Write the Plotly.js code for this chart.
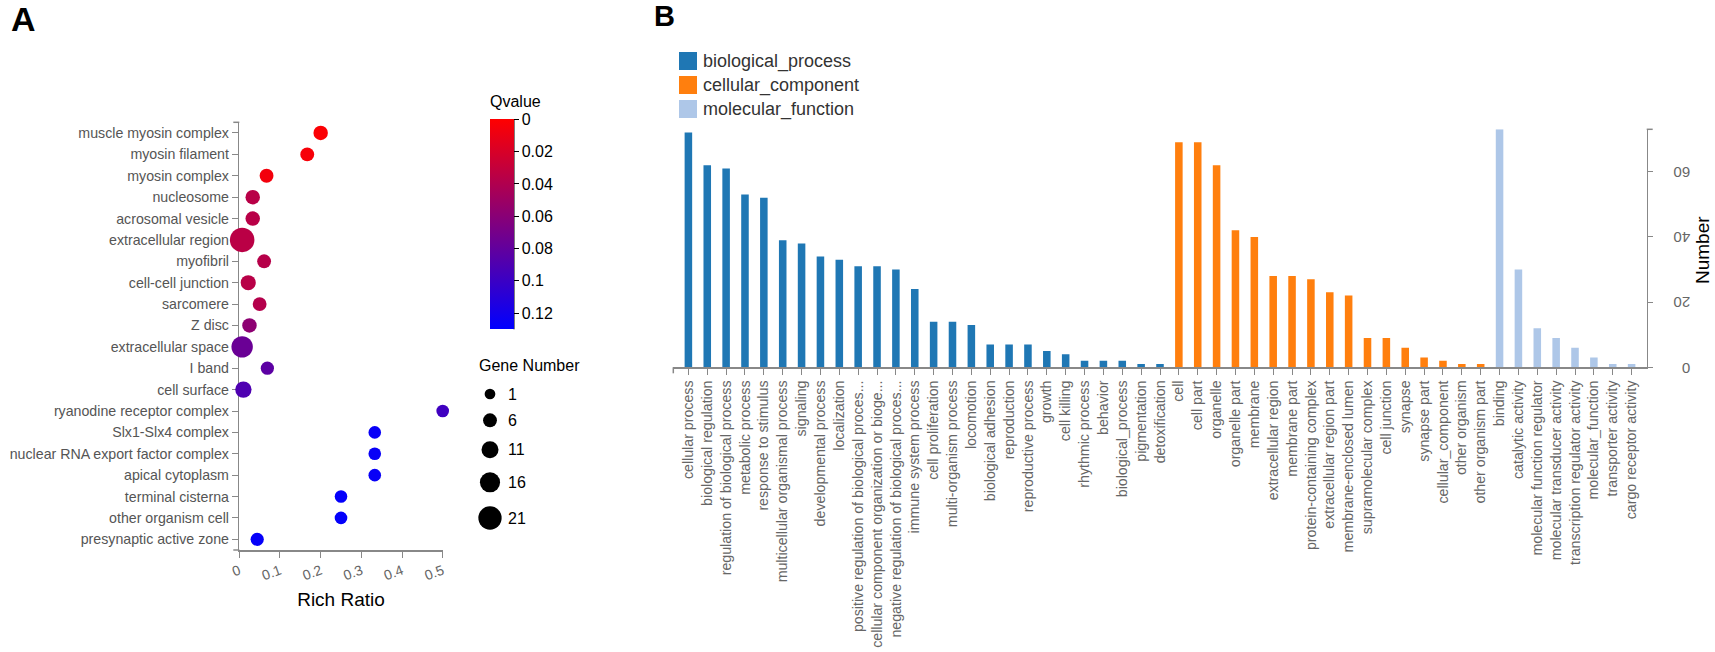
<!DOCTYPE html>
<html>
<head>
<meta charset="utf-8">
<script src="https://cdn.plot.ly/plotly-3.0.1.min.js"></script>
<style>html,body{margin:0;padding:0;background:#fff;}#chart{width:1715px;height:652px;}</style>
</head>
<body>
<div id="chart"></div>
<script>
// ---------------- Panel A data (GO cellular component enrichment) ----------------
const ccTerms = ['muscle myosin complex', 'myosin filament', 'myosin complex', 'nucleosome',
  'acrosomal vesicle', 'extracellular region', 'myofibril', 'cell-cell junction', 'sarcomere',
  'Z disc', 'extracellular space', 'I band', 'cell surface', 'ryanodine receptor complex',
  'Slx1-Slx4 complex', 'nuclear RNA export factor complex', 'apical cytoplasm',
  'terminal cisterna', 'other organism cell', 'presynaptic active zone'];
const richRatio = [0.2, 0.167, 0.067, 0.033, 0.033, 0.007, 0.061, 0.022, 0.05,
  0.025, 0.007, 0.069, 0.01, 0.5, 0.333, 0.333, 0.333, 0.25, 0.25, 0.044];
const geneNumber = [7, 6, 6, 7, 7, 23, 6, 8, 6, 7, 18, 5, 10, 4, 4, 4, 4, 4, 4, 5];
const qValue = [0.002, 0.004, 0.006, 0.036, 0.036, 0.035, 0.037, 0.036, 0.038,
  0.058, 0.076, 0.083, 0.09, 0.098, 0.126, 0.126, 0.126, 0.128, 0.128, 0.127];
const qTicks = [0, 0.02, 0.04, 0.06, 0.08, 0.1, 0.12];
const richTicks = [0, 0.1, 0.2, 0.3, 0.4, 0.5];
const legendGenes = [1, 6, 11, 16, 21];

// ---------------- Panel B data (GO level-2 classification) ----------------
const bpTerms = ['cellular process', 'biological regulation', 'regulation of biological process',
  'metabolic process', 'response to stimulus', 'multicellular organismal process', 'signaling',
  'developmental process', 'localization', 'positive regulation of biological proces...',
  'cellular component organization or bioge...', 'negative regulation of biological proces...',
  'immune system process', 'cell proliferation', 'multi-organism process', 'locomotion',
  'biological adhesion', 'reproduction', 'reproductive process', 'growth', 'cell killing',
  'rhythmic process', 'behavior', 'biological_process', 'pigmentation', 'detoxification'];
const bpCounts = [72, 62, 61, 53, 52, 39, 38, 34, 33, 31, 31, 30, 24, 14, 14, 13, 7, 7, 7, 5, 4, 2, 2, 2, 1, 1];
const ccClassTerms = ['cell', 'cell part', 'organelle', 'organelle part', 'membrane',
  'extracellular region', 'membrane part', 'protein-containing complex', 'extracellular region part',
  'membrane-enclosed lumen', 'supramolecular complex', 'cell junction', 'synapse', 'synapse part',
  'cellular_component', 'other organism', 'other organism part'];
const ccCounts = [69, 69, 62, 42, 40, 28, 28, 27, 23, 22, 9, 9, 6, 3, 2, 1, 1];
const mfTerms = ['binding', 'catalytic activity', 'molecular function regulator',
  'molecular transducer activity', 'transcription regulator activity', 'molecular_function',
  'transporter activity', 'cargo receptor activity'];
const mfCounts = [73, 30, 12, 9, 6, 3, 1, 1];
const groupNames = ['biological_process', 'cellular_component', 'molecular_function'];
const numberTicks = [0, 20, 40, 60];

// ---------------- styling / layout helpers ----------------
const W = 1715, H = 652;
const FONT = 'Liberation Sans, Arial, sans-serif';
const groupColors = ['#1f77b4', '#ff7f0e', '#aec7e8'];
const px = v => v / W;          // pixel -> paper x
const py = v => 1 - v / H;      // pixel -> paper y
const diam = n => 10.7 + 0.63 * (n - 1);

// size-legend vertical positions (stacked by circle size)
const legY = [];
legendGenes.forEach((n, i) => {
  if (i === 0) legY.push(394);
  else legY.push(legY[i - 1] + (diam(legendGenes[i - 1]) + diam(n)) / 2 + 14);
});

const traces = [];
// Panel A bubbles
traces.push({
  type: 'scatter', mode: 'markers', xaxis: 'x', yaxis: 'y',
  x: richRatio, y: ccTerms, cliponaxis: false,
  marker: {
    size: geneNumber.map(diam), sizemode: 'diameter', opacity: 1,
    color: qValue.map(q => -q), cmin: -0.13, cmax: 0,
    colorscale: [[0, '#0000ff'], [1, '#ff0000']],
    line: {width: 0},
    colorbar: {
      x: px(490), xanchor: 'left', y: py(119.3), yanchor: 'top',
      len: 210, lenmode: 'pixels', thickness: 24, thicknessmode: 'pixels',
      xpad: 0, ypad: 0, outlinewidth: 0,
      tickvals: qTicks.map(q => -q), ticktext: qTicks.map(String),
      ticks: 'outside', ticklen: 5, tickcolor: '#000',
      tickfont: {family: FONT, size: 16, color: '#000'}
    }
  },
  hovertemplate: '%{y}<br>Rich Ratio %{x}<extra></extra>'
});
// Gene Number size legend (drawn on a pixel-scaled hidden axis)
traces.push({
  type: 'scatter', mode: 'markers', xaxis: 'x3', yaxis: 'y3',
  x: legendGenes.map(() => 490), y: legY, cliponaxis: false,
  marker: {size: legendGenes.map(diam), color: '#000', opacity: 1, line: {width: 0}},
  hoverinfo: 'skip'
});
// Panel B bars
[[bpTerms, bpCounts], [ccClassTerms, ccCounts], [mfTerms, mfCounts]].forEach((g, i) => {
  traces.push({
    type: 'bar', xaxis: 'x2', yaxis: 'y2', name: groupNames[i],
    x: g[0], y: g[1], width: 0.4,
    marker: {color: groupColors[i], line: {width: 0}}
  });
});

const allTerms = bpTerms.concat(ccClassTerms, mfTerms);

const annotations = [
  {text: '<b>A</b>', x: 9, y: 19, xref: 'x3', yref: 'y3', xanchor: 'left', yanchor: 'middle', showarrow: false,
   font: {family: FONT, size: 34, color: '#000'}},
  {text: '<b>B</b>', x: 652, y: 15.5, xref: 'x3', yref: 'y3', xanchor: 'left', yanchor: 'middle', showarrow: false,
   font: {family: FONT, size: 29, color: '#000'}},
  {text: 'Qvalue', x: 488, y: 101, xref: 'x3', yref: 'y3', xanchor: 'left', yanchor: 'middle', showarrow: false,
   font: {family: FONT, size: 16, color: '#000'}},
  {text: 'Gene Number', x: 477, y: 365, xref: 'x3', yref: 'y3', xanchor: 'left', yanchor: 'middle', showarrow: false,
   font: {family: FONT, size: 16, color: '#000'}},
  {text: 'Number', x: 1702, y: 250, xref: 'x3', yref: 'y3', xanchor: 'center', yanchor: 'middle', showarrow: false,
   textangle: -90, font: {family: FONT, size: 19, color: '#000'}}
];
legendGenes.forEach((n, i) => annotations.push({
  text: String(n), x: 506, y: legY[i], xref: 'x3', yref: 'y3', xanchor: 'left', yanchor: 'middle',
  showarrow: false, font: {family: FONT, size: 16, color: '#000'}
}));
const axisGray = '#888';
const shapes = [
  // colorbar axis line
  {type: 'line', xref: 'x3', yref: 'y3', x0: 514, x1: 514, y0: 119.3, y1: 329.3, line: {color: '#000', width: 1}},
  // outer (domain-end) ticks
  {type: 'line', xref: 'x3', yref: 'y3', x0: 233.3, x1: 239.3, y0: 122.3, y1: 122.3, line: {color: axisGray, width: 1.5}},
  {type: 'line', xref: 'x3', yref: 'y3', x0: 233.3, x1: 239.3, y0: 550, y1: 550, line: {color: axisGray, width: 1.5}},
  {type: 'line', xref: 'x3', yref: 'y3', x0: 673.3, x1: 673.3, y0: 367.3, y1: 373.3, line: {color: axisGray, width: 1.5}},
  {type: 'line', xref: 'x3', yref: 'y3', x0: 1646.7, x1: 1652.7, y0: 129.3, y1: 129.3, line: {color: axisGray, width: 1.5}}
];
groupNames.forEach((g, i) => {
  const yc = 61 + i * 24;
  shapes.push({type: 'rect', xref: 'x3', yref: 'y3', x0: 679, x1: 697, y0: yc - 9, y1: yc + 9,
    fillcolor: groupColors[i], line: {width: 0}});
  annotations.push({text: g, x: 701, y: yc, xref: 'x3', yref: 'y3', xanchor: 'left', yanchor: 'middle',
    showarrow: false, font: {family: FONT, size: 18, color: '#333'}});
});

const layout = {
  width: W, height: H, margin: {l: 0, r: 0, t: 0, b: 0},
  paper_bgcolor: '#fff', plot_bgcolor: 'rgba(0,0,0,0)',
  showlegend: false, barmode: 'overlay', font: {family: FONT},
  xaxis: {
    domain: [px(239.3), px(442.7)], anchor: 'y', range: [0, 0.5],
    tickvals: richTicks, ticktext: richTicks.map(String), tickangle: -20,
    ticks: 'outside', ticklen: 6, tickcolor: axisGray, showline: true, linecolor: axisGray, linewidth: 1.5,
    showgrid: false, zeroline: false, layer: 'below traces',
    tickfont: {family: FONT, size: 14, color: '#666'},
    title: {text: 'Rich Ratio', font: {family: FONT, size: 19, color: '#000'}, standoff: 10}
  },
  yaxis: {
    domain: [py(550), py(122.3)], anchor: 'x', type: 'category',
    categoryorder: 'array', categoryarray: ccTerms, range: [19.5, -0.5],
    ticks: 'outside', ticklen: 6, tickcolor: axisGray, showline: true, linecolor: axisGray, linewidth: 1.5,
    showgrid: false, zeroline: false, layer: 'below traces',
    tickfont: {family: FONT, size: 14.2, color: '#555'}
  },
  xaxis2: {
    domain: [px(673.3), px(1646.7)], anchor: 'y2', type: 'category',
    categoryorder: 'array', categoryarray: allTerms, range: [-0.8, 50.8],
    tickangle: -90, ticks: 'outside', ticklen: 6, tickcolor: axisGray,
    showline: true, linecolor: axisGray, linewidth: 1.5, showgrid: false, zeroline: false,
    tickfont: {family: FONT, size: 14.2, color: '#666'}
  },
  yaxis2: {
    domain: [py(367.3), py(129.3)], anchor: 'x2', side: 'right', range: [0, 73],
    tickvals: numberTicks, tickangle: 180, ticks: 'outside', ticklen: 5, tickcolor: axisGray,
    ticklabelstandoff: 34, ticklabelshift: 5,
    showline: true, linecolor: axisGray, linewidth: 1.5, showgrid: false, zeroline: false,
    tickfont: {family: FONT, size: 15, color: '#666'}
  },
  xaxis3: {domain: [0, 1], anchor: 'y3', range: [0, W], visible: false, fixedrange: true},
  yaxis3: {domain: [0, 1], anchor: 'x3', range: [H, 0], visible: false, fixedrange: true},
  annotations: annotations, shapes: shapes
};

Plotly.newPlot('chart', traces, layout, {displayModeBar: false, staticPlot: true});
</script>
</body>
</html>
